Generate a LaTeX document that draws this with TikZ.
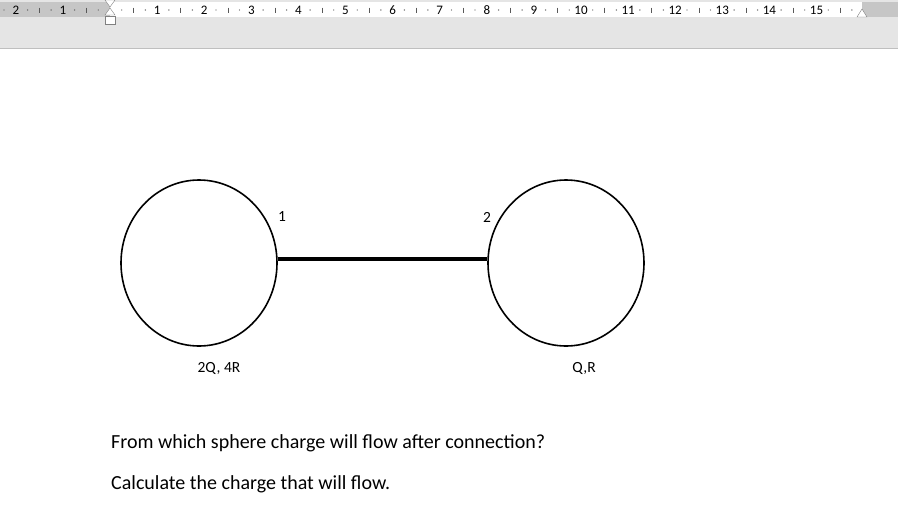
\documentclass[tikz,border=0pt]{standalone}
\usepackage{fontspec}
\usetikzlibrary{shapes.geometric}
\setmainfont{Carlito}
\begin{document}
\begin{tikzpicture}[x=1pt,y=-1pt,
  sph/.style={draw,line width=1.6pt,ellipse,minimum width=156pt,minimum height=166pt,inner sep=0pt},
  lbl/.style={inner sep=0pt,font=\fontsize{15.5}{17}\selectfont},
  txt/.style={inner sep=0pt,anchor=west,font=\fontsize{20}{23}\selectfont},
  rul/.style={inner sep=0pt,font=\fontsize{13}{14}\selectfont}]
\useasboundingbox (0,0) rectangle (898,507);
\fill[white] (0,0) rectangle (898,507);
\fill[gray!20] (0,0) rectangle (898,48);
\draw[gray!50] (0,48) -- (898,48);
\fill[white] (0,2) rectangle (898,17);
\fill[gray!45] (0,2) rectangle (110,17);
\fill[gray!45] (862,2) rectangle (898,17);
\foreach \n [evaluate=\n as \xx using 110+47.1*\n] in {1,...,15}
  \node[rul] at (\xx,10) {\n};
\node[rul] at (62.9,10) {1};
\node[rul] at (15.8,10) {2};
\foreach \k in {-9,...,64}{
  \pgfmathsetmacro\xx{110+11.775*\k}
  \pgfmathtruncatemacro\m{mod(\k+100,4)}
  \ifnum\m=2 \draw[gray!70!black] (\xx,7.5) -- (\xx,12.5);
  \else\ifnum\m=0 \else \fill[gray!70!black] (\xx,10) circle (0.7); \fi\fi}
\draw[gray,fill=white] (105,0) -- (115,0) -- (110,7) -- cycle;
\draw[gray,fill=white] (110,8) -- (115,15) -- (105,15) -- cycle;
\draw[gray,fill=white] (105,16) rectangle (115,24);
\draw[gray,fill=white] (862,9) -- (867,17) -- (857,17) -- cycle;
\node[sph] (s1) at (199,263) {};
\node[sph] (s2) at (566,263) {};
\draw[line width=3.5pt] ([yshift=4pt]s1.east) -- ([yshift=4pt]s2.west);
\node[lbl] (l1) at (282,217) {1};
\node[lbl] (l2) at (487,217) {2};
\node[lbl] (q1) at (219,368) {2Q, 4R};
\node[lbl] (q2) at (584,368) {Q,R};
\node[txt] (t1) at (111,443) {From which sphere charge will flow after connection?};
\node[txt] (t2) at (111,484) {Calculate the charge that will flow.};
\end{tikzpicture}
\end{document}
